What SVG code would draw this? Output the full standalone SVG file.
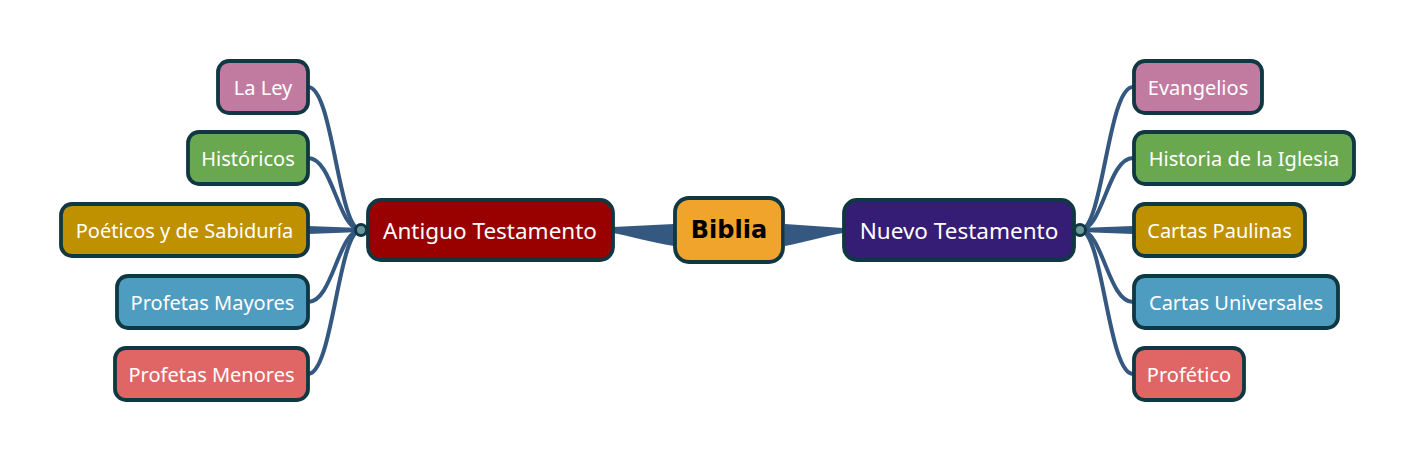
<svg xmlns="http://www.w3.org/2000/svg" width="1426" height="471" viewBox="0 0 1426 471">
<style>
.n rect{stroke:#103843;stroke-width:3.8}
.t{font-family:"Noto Sans","Open Sans",sans-serif;font-size:20px;fill:#ffffff;text-anchor:middle;dominant-baseline:central}
.m{font-size:22.5px}
.b{font-family:"DejaVu Sans",sans-serif;font-size:24px;font-weight:bold;fill:#000;text-anchor:middle;dominant-baseline:central}
.c{fill:none;stroke:#34587f;stroke-width:4;stroke-linecap:round}
.w{fill:#34587f}
.d{fill:#6a979c;stroke:#103843;stroke-width:3}
</style>
<rect width="1426" height="471" fill="#ffffff"/>
<g id="connectors">
<path class="w" d="M613,227 L674,224 L674,246 C650,242 630,236 613,233 Z"/>
<path class="w" d="M785,224 L843,228 L843,233 C825,236 805,242 785,246 Z"/>
<path class="c" d="M308,87 C333,87 338,230 361,230"/>
<path class="c" d="M308,158 C333,158 338,230 361,230"/>
<path class="w" d="M308,226 L361,228 L361,232 L308,234 Z"/>
<path class="c" d="M308,302 C333,302 338,230 361,230"/>
<path class="c" d="M308,374 C333,374 338,230 361,230"/>
<path class="c" d="M1133,87 C1108,87 1103,230 1080,230"/>
<path class="c" d="M1133,158 C1108,158 1103,230 1080,230"/>
<path class="w" d="M1133,226 L1080,228 L1080,232 L1133,234 Z"/>
<path class="c" d="M1133,302 C1108,302 1103,230 1080,230"/>
<path class="c" d="M1133,374 C1108,374 1103,230 1080,230"/>
<circle class="d" cx="361" cy="230" r="5.5"/>
<circle class="d" cx="1080" cy="230" r="5.5"/>
</g>
<g id="biblia" class="n"><rect x="675" y="198" width="108" height="64" rx="14" fill="#f1a42b"/><text class="b" x="729" y="230">Biblia</text></g>
<g id="antiguo" class="n"><rect x="368" y="200" width="245" height="60" rx="13" fill="#990000"/><text class="t m" x="490" y="230">Antiguo Testamento</text></g>
<g id="nuevo" class="n"><rect x="844" y="200" width="230" height="60" rx="13" fill="#351c75"/><text class="t m" x="959" y="230">Nuevo Testamento</text></g>
<g id="laley" class="n"><rect x="218" y="61" width="90" height="52" rx="11" fill="#c27ba0"/><text class="t" x="263" y="87">La Ley</text></g>
<g id="historicos" class="n"><rect x="188" y="132" width="120" height="52" rx="11" fill="#6aa84f"/><text class="t" x="248" y="158">Históricos</text></g>
<g id="poeticos" class="n"><rect x="61" y="204" width="247" height="52" rx="11" fill="#bf9000"/><text class="t" x="184.5" y="230">Poéticos y de Sabiduría</text></g>
<g id="mayores" class="n"><rect x="117" y="276" width="191" height="52" rx="11" fill="#4e9cc0"/><text class="t" x="212.5" y="302">Profetas Mayores</text></g>
<g id="menores" class="n"><rect x="115" y="348" width="193" height="52" rx="11" fill="#e06666"/><text class="t" x="211.5" y="374">Profetas Menores</text></g>
<g id="evangelios" class="n"><rect x="1134" y="61" width="128" height="52" rx="11" fill="#c27ba0"/><text class="t" x="1198" y="87">Evangelios</text></g>
<g id="iglesia" class="n"><rect x="1134" y="132" width="220" height="52" rx="11" fill="#6aa84f"/><text class="t" x="1244" y="158">Historia de la Iglesia</text></g>
<g id="paulinas" class="n"><rect x="1134" y="204" width="171" height="52" rx="11" fill="#bf9000"/><text class="t" x="1219.5" y="230">Cartas Paulinas</text></g>
<g id="universales" class="n"><rect x="1134" y="276" width="204" height="52" rx="11" fill="#4e9cc0"/><text class="t" x="1236" y="302">Cartas Universales</text></g>
<g id="profetico" class="n"><rect x="1134" y="348" width="110" height="52" rx="11" fill="#e06666"/><text class="t" x="1189" y="374">Profético</text></g>
</svg>
